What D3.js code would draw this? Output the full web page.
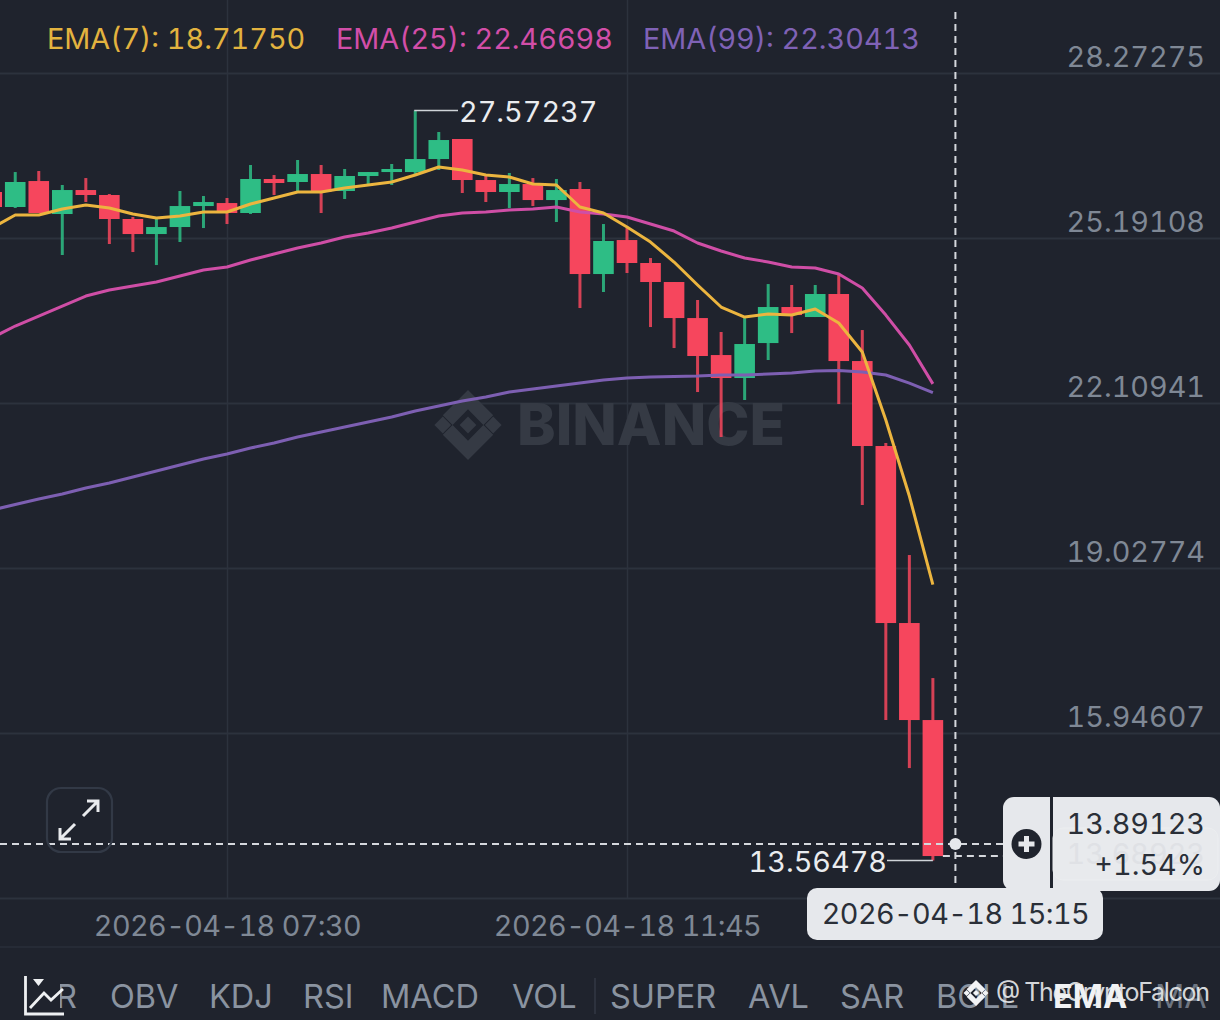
<!DOCTYPE html>
<html><head><meta charset="utf-8">
<script src="https://cdn.jsdelivr.net/npm/d3@7/dist/d3.min.js"></script>
<style>
html,body{margin:0;padding:0;background:#1f232d;overflow:hidden}
svg{display:block}
text{font-family:Inter,"Noto Sans",sans-serif;font-feature-settings:"tnum" 1;font-variant-numeric:tabular-nums}
</style></head><body><div id="c"></div>
<script>
const opens=[26.050,25.770,26.255,25.639,26.087,25.994,25.546,25.265,25.396,25.788,25.844,25.658,26.293,26.237,26.386,26.069,26.349,26.423,26.423,26.666,27.040,26.274,26.050,26.199,25.900,26.106,24.518,25.153,24.724,24.369,23.696,23.005,22.576,23.229,23.902,23.715,24.145,22.893,21.306,18.000,16.188];
const closes=[25.770,26.237,25.658,26.087,25.994,25.546,25.265,25.396,25.788,25.863,25.658,26.293,26.218,26.386,26.050,26.349,26.423,26.480,26.666,27.021,26.274,26.050,26.199,25.900,26.087,24.518,25.135,24.724,24.369,23.696,22.987,22.576,23.211,23.902,23.752,24.145,22.893,21.306,18.000,16.188,13.648];
const highs=[26.162,26.423,26.442,26.181,26.311,26.013,25.583,25.564,26.069,25.975,25.938,26.554,26.367,26.648,26.554,26.480,26.423,26.573,27.57237,27.171,27.040,26.349,26.405,26.311,26.293,26.237,25.452,25.377,24.817,24.369,24.033,23.435,23.696,24.331,24.313,24.313,24.537,23.472,21.362,19.270,16.972];
const lows=[25.676,25.751,25.658,24.873,25.863,25.079,24.929,24.686,25.116,25.377,25.452,25.639,25.994,26.050,25.658,25.919,26.181,26.181,26.367,26.461,26.031,25.863,25.751,25.788,25.490,23.883,24.182,24.537,23.528,23.136,22.314,21.474,22.165,22.912,23.416,23.715,22.090,20.204,16.188,15.291,13.56478];
const ema7=[25.377,25.620,25.620,25.732,25.807,25.751,25.639,25.564,25.602,25.676,25.676,25.826,25.938,26.050,26.050,26.125,26.181,26.237,26.367,26.517,26.461,26.367,26.330,26.199,26.181,25.770,25.658,25.396,25.116,24.742,24.313,23.902,23.715,23.771,23.752,23.865,23.603,23.061,21.791,20.372,18.7175];
const ema25=[23.323,23.547,23.734,23.920,24.107,24.219,24.294,24.369,24.481,24.593,24.649,24.780,24.892,25.004,25.097,25.209,25.284,25.377,25.490,25.602,25.658,25.676,25.714,25.732,25.770,25.676,25.639,25.583,25.452,25.321,25.097,24.948,24.817,24.742,24.649,24.630,24.518,24.257,23.752,23.192,22.46698];
const ema99=[20.110,20.213,20.316,20.409,20.521,20.615,20.727,20.839,20.951,21.063,21.156,21.268,21.362,21.474,21.567,21.660,21.754,21.847,21.959,22.053,22.146,22.221,22.314,22.370,22.426,22.482,22.538,22.576,22.594,22.604,22.613,22.632,22.632,22.650,22.669,22.707,22.716,22.688,22.632,22.482,22.30413];
const priceTicks=[28.27275,25.19108,22.10941,19.02774,15.94607,12.8644];
const timeTicks=["2026-04-18 07:30","2026-04-18 11:45"];
const firstTime="2026-04-18 05:00", crossTime="2026-04-18 15:15";
const crossPrice=13.89123, lastPrice=13.648, highLabel="27.57237", lowLabel="13.56478";
const legendItems=["EMA(7): 18.71750","EMA(25): 22.46698","EMA(99): 22.30413"];
const tabs=["R","OBV","KDJ","RSI","MACD","VOL","SUPER","AVL","SAR","BOLL","EMA","MA"];

const W=1220,H=1020,BG="#1f232d",UP="#2ebd85",DOWN="#f6465d",FS=28.8;
const parse=d3.utcParse("%Y-%m-%d %H:%M"),fmtT=d3.utcFormat("%Y-%m-%d %H:%M");
const times=opens.map((_,i)=>d3.utcMinute.offset(parse(firstTime),15*i));
const x=d3.scaleUtc().domain([parse(timeTicks[0]),parse(timeTicks[1])]).range([227,627]);
const y=d3.scaleLinear().domain([priceTicks[0],priceTicks[5]]).range([73,898]);

const svg=d3.select("#c").append("svg").attr("width",W).attr("height",H).attr("viewBox",`0 0 ${W} ${H}`);
svg.append("rect").attr("width",W).attr("height",H).attr("fill",BG);
svg.append("defs").append("clipPath").attr("id","plot").append("rect").attr("width",W).attr("height",898);

// grid + axes
const gy=svg.append("g").attr("transform",`translate(${W},0)`)
 .call(d3.axisLeft(y).tickValues(priceTicks).tickSize(W).tickFormat(d=>d>13?d.toFixed(5):""));
gy.select(".domain").remove();
gy.attr("font-family",null);
gy.selectAll("line").attr("stroke","#2c323d").attr("stroke-width",2);
gy.selectAll("text").attr("x",-15).attr("dy",-14).attr("text-anchor","end").attr("dominant-baseline","middle")
 .attr("fill","#7f8895").attr("font-size",FS);
const gx=svg.append("g").attr("transform","translate(0,898)")
 .call(d3.axisBottom(x).tickValues(timeTicks.map(parse)).tickSize(-898).tickPadding(0).tickFormat(fmtT));
gx.select(".domain").remove();
gx.attr("font-family",null);
gx.selectAll("line").attr("stroke","#2c323d").attr("stroke-width",1.5);
gx.selectAll("text").attr("y",30).attr("dy",0).attr("dominant-baseline","middle").attr("fill","#7f8895").attr("font-size",FS).attr("letter-spacing",-0.6);
svg.append("line").attr("x1",0).attr("x2",W).attr("y1",947).attr("y2",947).attr("stroke","#2a2f3a").attr("stroke-width",1.5);

// watermark
const wm=svg.append("g").attr("fill","#353a44");
wm.append("text").attr("x",517).attr("y",445).attr("font-size",58).attr("font-weight",800).attr("textLength",268).attr("lengthAdjust","spacingAndGlyphs").text("BINANCE");
function logo(g,cx,cy,s,fill){
 const sq=(dx,dy,r)=>g.append("path").attr("fill",fill).attr("d",`M${cx+dx*s} ${cy+(dy-r)*s}L${cx+(dx+r)*s} ${cy+dy*s}L${cx+dx*s} ${cy+(dy+r)*s}L${cx+(dx-r)*s} ${cy+dy*s}Z`);
 sq(0,0,.24);sq(-.72,0,.24);sq(.72,0,.24);
 const chev=(sgn)=>g.append("path").attr("fill",fill).attr("d",`M${cx} ${cy+sgn*1*s}L${cx+.72*s} ${cy+sgn*.28*s}L${cx+.44*s} ${cy}L${cx} ${cy+sgn*.45*s}L${cx-.44*s} ${cy}L${cx-.72*s} ${cy+sgn*.28*s}Z`);
 chev(-1);chev(1);
}
logo(wm,468,425,35,"#353a44");

// candles
const plot=svg.append("g").attr("clip-path","url(#plot)");
const rows=opens.map((o,i)=>({t:times[i],o,c:closes[i],h:highs[i],l:lows[i]}));
const col=d=>d.c>=d.o?UP:DOWN;
plot.selectAll("line.wick").data(rows).join("line").attr("class","wick")
 .attr("x1",d=>x(d.t)).attr("x2",d=>x(d.t)).attr("y1",d=>y(d.h)).attr("y2",d=>y(d.l))
 .attr("stroke",d=>col(d)).attr("stroke-width",3).attr("stroke-opacity",.85);
plot.selectAll("rect.body").data(rows).join("rect").attr("class","body")
 .attr("x",d=>x(d.t)-10.3).attr("width",20.6).attr("y",d=>y(Math.max(d.o,d.c)))
 .attr("height",d=>Math.max(1.5,Math.abs(y(d.o)-y(d.c)))).attr("fill",col);

// EMAs
const line=d3.line().x((d,i)=>x(times[i])).y(d=>y(d));
[[ema99,"#7d5fb2"],[ema25,"#cf4ea6"],[ema7,"#ecb53f"]].forEach(([s,c])=>
 plot.append("path").datum(s).attr("d",line).attr("fill","none").attr("stroke",c).attr("stroke-width",3).attr("stroke-linejoin","round"));

// legend
[[47,"#e3b33f"],[336,"#d24ea8"],[643,"#7f62b6"]].forEach(([lx,c],i)=>
 svg.append("text").attr("x",lx).attr("y",41).attr("dominant-baseline","middle").attr("fill",c).attr("font-size",FS).text(legendItems[i]));

// high / low tags
const last=rows[rows.length-1],hi=rows[18];
svg.append("path").attr("d",`M${x(hi.t)-1} ${y(hi.h)}H458`).attr("stroke","#cfd3d8").attr("stroke-width",1.6).attr("fill","none");
svg.append("text").attr("x",459).attr("y",y(hi.h)+3.500).attr("dominant-baseline","middle").attr("fill","#eaecef").attr("font-size",FS).text(highLabel);
svg.append("path").attr("d",`M887 ${y(last.l)}H${x(last.t)}`).attr("stroke","#cfd3d8").attr("stroke-width",1.6).attr("fill","none");
svg.append("text").attr("x",887).attr("y",y(last.l)+4).attr("text-anchor","end").attr("dominant-baseline","middle").attr("fill","#eaecef").attr("font-size",FS).text(lowLabel);

// crosshair
const cx=x(parse(crossTime)),cy=y(crossPrice);
const dash={stroke:"#d5d8dd","stroke-width":2,"stroke-dasharray":"7 5"};
const dl=(x1,y1,x2,y2)=>{const l=svg.append("line").attr("x1",x1).attr("y1",y1).attr("x2",x2).attr("y2",y2);Object.entries(dash).forEach(([k,v])=>l.attr(k,v));};
dl(cx-1,12,cx-1,890);dl(0,cy+1,1005,cy+1);dl(x(last.t)+10,y(lastPrice),1005,y(lastPrice));
svg.append("circle").attr("cx",cx-1).attr("cy",cy+1).attr("r",6).attr("fill","#e6e8ec");

// expand button
svg.append("rect").attr("x",47).attr("y",788).attr("width",65).attr("height",64).attr("rx",14).attr("fill","none").attr("stroke","#323946").attr("stroke-width",2.2);
svg.append("path").attr("d","M83 816L98 801M87 801H98V812M75 824L60 839M60 828V839H71").attr("fill","none").attr("stroke","#e8eaed").attr("stroke-width",3);

// price box
svg.append("rect").attr("x",1003).attr("y",797).attr("width",217).attr("height",94).attr("rx",11).attr("fill","#e6e8ec");
svg.append("rect").attr("x",1050).attr("y",797).attr("width",3).attr("height",94).attr("fill","#20242e");
svg.append("circle").attr("cx",1026.5).attr("cy",844).attr("r",15).attr("fill","#20242e");
svg.append("path").attr("d","M1026.5 836V852M1018.5 844H1034.5").attr("stroke","#e6e8ec").attr("stroke-width",5);
svg.append("rect").attr("x",1053).attr("y",828).attr("width",165).attr("height",52).attr("rx",10).attr("fill","#e8eaed").attr("stroke","#eceef0");
svg.append("text").attr("x",1205).attr("y",856).attr("text-anchor","end").attr("dominant-baseline","middle").attr("fill","#dfe1e5").attr("font-size",FS).text("13.68923");
svg.append("text").attr("x",1205).attr("y",826).attr("text-anchor","end").attr("dominant-baseline","middle").attr("fill","#2a2f38").attr("font-size",FS).text(crossPrice.toFixed(5));
svg.append("text").attr("x",1205).attr("y",867).attr("text-anchor","end").attr("dominant-baseline","middle").attr("fill","#2a2f38").attr("font-size",FS).text("+1.54%");

// date box
svg.append("rect").attr("x",807).attr("y",888).attr("width",296).attr("height",52).attr("rx",10).attr("fill","#e6e8ec");
svg.append("text").attr("x",cx-1).attr("y",916).attr("text-anchor","middle").attr("dominant-baseline","middle").attr("fill","#2a2f38").attr("font-size",FS).attr("letter-spacing",-0.6).text(fmtT(parse(crossTime)));

// tabs
const tabX=[56,110,209,303,381,512,610,748,840,936,1053,1155];
const tabC=["#8a93a0","#8a93a0","#8a93a0","#8a93a0","#8a93a0","#8a93a0","#8a93a0","#8a93a0","#8a93a0","#8a93a0","#f1f2f4","#6d7581"];
svg.append("defs").append("clipPath").attr("id","tabs").append("rect").attr("x",60).attr("y",960).attr("width",1160).attr("height",60);
const tabG=svg.append("g").attr("clip-path","url(#tabs)");
tabs.forEach((t,i)=>tabG.append("text").attr("x",tabX[i]).attr("y",999).attr("dominant-baseline","middle").attr("fill",tabC[i]).attr("font-size",32.5).attr("font-weight",i==10?700:400).text(t));
svg.append("line").attr("x1",595).attr("x2",595).attr("y1",978).attr("y2",1014).attr("stroke","#333945").attr("stroke-width",1.5);
svg.append("path").attr("d","M25.500 976V1014H64M30 1008L44 993L51 1000L63 989").attr("fill","none").attr("stroke","#eef0f2").attr("stroke-width",2.8);
svg.append("path").attr("d","M33 979H44L38.500 986Z").attr("fill","#eef0f2");

// attribution overlay
logo(svg.append("g"),976,993,13,"#f2f3f5");
svg.append("text").attr("x",996).attr("y",994).attr("dominant-baseline","middle").attr("fill","#eef0f2").attr("fill-opacity",.9).attr("font-size",25).attr("textLength",214).text("@ TheCryptoFalcon");
</script></body></html>
